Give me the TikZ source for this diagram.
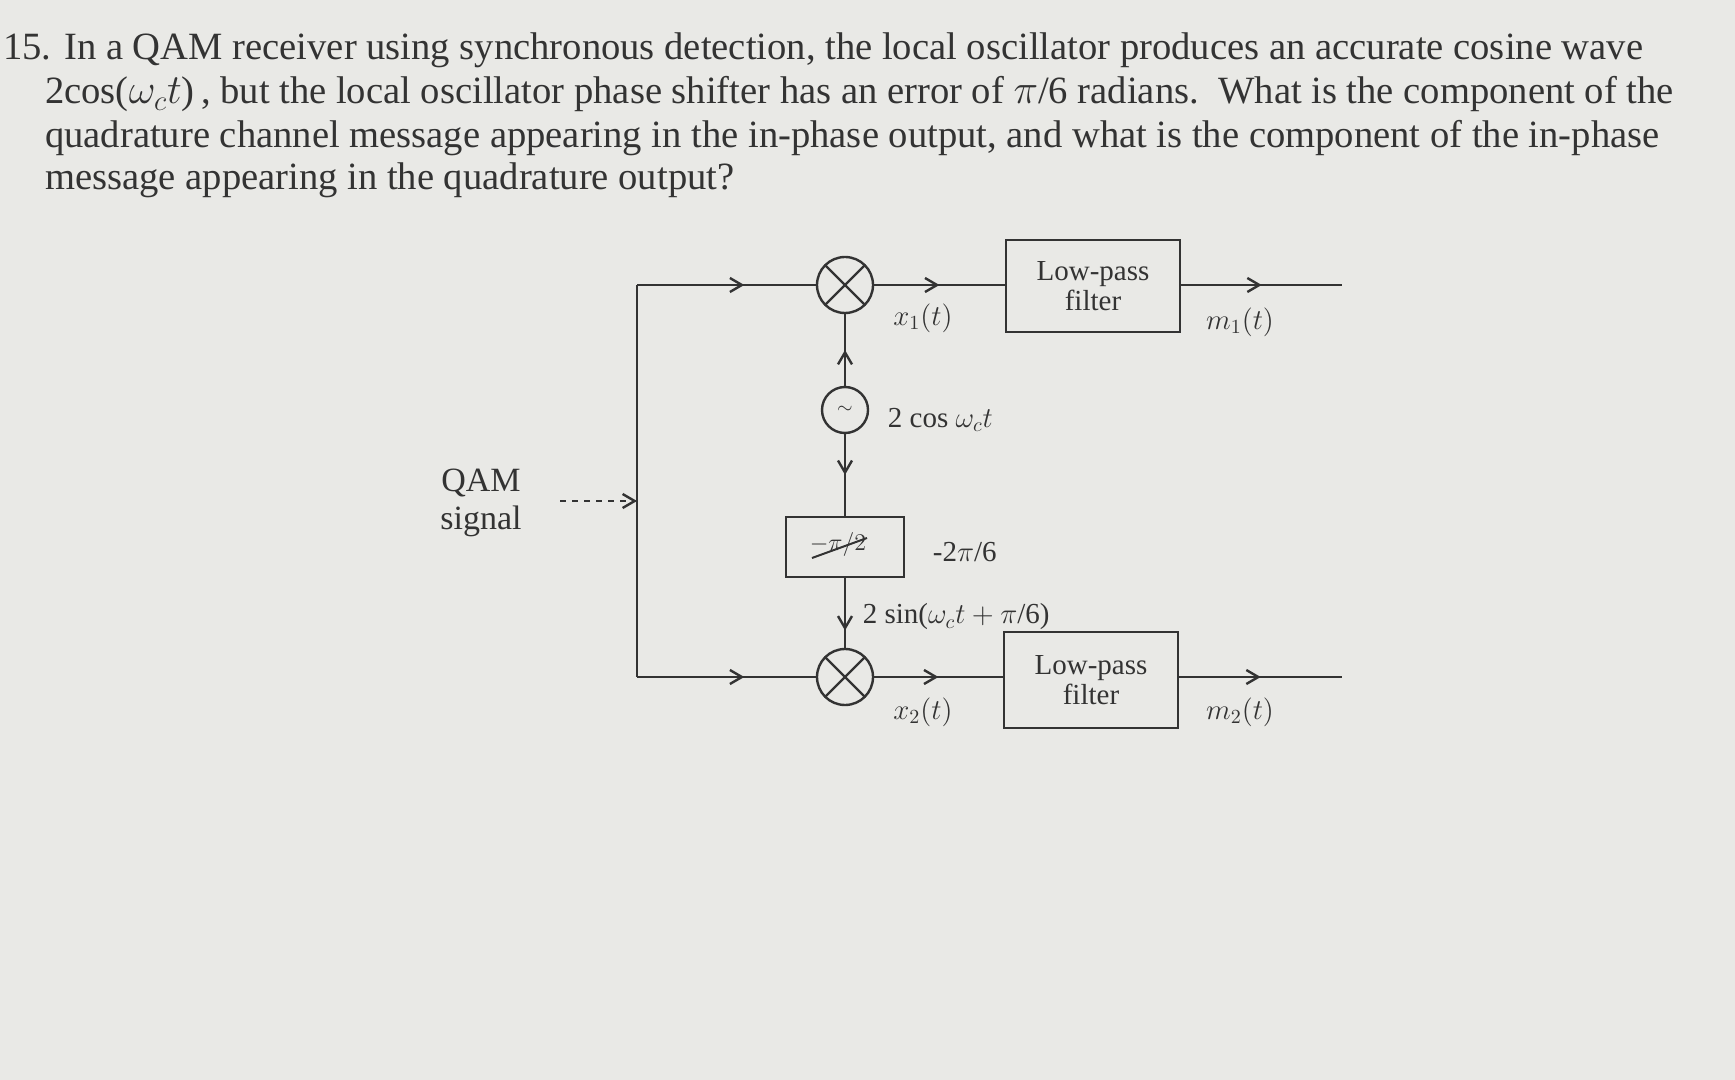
\documentclass[tikz,border=0pt]{standalone}
\usepackage{fontspec}
\setmainfont{Liberation Serif}
\usetikzlibrary{decorations.markings,arrows.meta}
\definecolor{paper}{HTML}{E9E9E6}
\definecolor{ink}{HTML}{333333}
\begin{document}
\begin{tikzpicture}[x=0.5pt,y=-0.5pt,
  line width=1.2pt, draw=ink, text=ink,
  mix/.style={circle,draw,minimum size=28pt,inner sep=0pt,path picture={\draw[line width=1.2pt] (path picture bounding box.north west)--(path picture bounding box.south east) (path picture bounding box.north east)--(path picture bounding box.south west);}},
  osc/.style={circle,draw,minimum size=23pt,inner sep=0pt},
  blk/.style={draw,line width=1.4pt,align=center,font=\fontsize{14.5}{15}\selectfont},
  lbl/.style={font=\fontsize{14.5}{15}\selectfont},
  qtext/.style={anchor=base west,inner sep=0pt,font=\fontsize{19.3}{21}\selectfont},
  midarrow/.style={postaction={decorate},decoration={markings,mark=at position #1 with {\arrow{Straight Barb[length=6pt,width=7pt]}}}}
]
\fill[paper] (0,0) rectangle (1735,1080);
\useasboundingbox (0,0) rectangle (1735,1080);
% question
\node[qtext] (q1) at (2,60) {15. In a QAM receiver using synchronous detection, the local oscillator produces an accurate cosine wave};
\node[qtext] (q2) at (44,104) {2cos($\omega_c t$)\,, but the local oscillator phase shifter has an error of $\pi$/6 radians.\ \ What is the component of the};
\node[qtext] (q3) at (44,148) {quadrature channel message appearing in the in-phase output, and what is the component of the in-phase};
\node[qtext] (q4) at (44,190) {message appearing in the quadrature output?};
% blocks
\node[mix] (m1) at (845,285) {};
\node[osc] (o) at (845,410) {$\sim$};
\node[draw,line width=1.4pt,minimum width=59pt,minimum height=30pt] (ph) at (845,547) {};
\node[font=\fontsize{13}{13}\selectfont] (phs) at (838,545) {$-\pi/2$};
\draw[line width=1pt] (812,558) -- (867,538);
\node[mix] (m2) at (845,677) {};
\node[blk,minimum width=87pt,minimum height=46pt] (f1) at (1093,286) {Low-pass\\filter};
\node[blk,minimum width=87pt,minimum height=48pt] (f2) at (1091,680) {Low-pass\\filter};
\coordinate (in) at (637,501);
\coordinate (top) at (637,285);
\coordinate (bot) at (637,677);
\coordinate (o1) at (1342,285);
\coordinate (o2) at (1342,677);
\coordinate (src) at (560,501);
% labels
\node[font=\fontsize{17}{19}\selectfont,align=center] (qam) at (481,503) {QAM\\signal};
\node[lbl] (x1) at (923,318) {$x_1(t)$};
\node[lbl] (mm1) at (1240,322) {$m_1(t)$};
\node[lbl,anchor=west] (c) at (880,420) {2 cos $\omega_c t$};
\node[lbl,anchor=west] (pl) at (925,552) {-2$\pi$/6};
\node[lbl,anchor=west] (sl) at (855,617) {2 sin($\omega_c t+\pi$/6)};
\node[lbl] (x2) at (923,712) {$x_2(t)$};
\node[lbl] (mm2) at (1240,712) {$m_2(t)$};
% connectors
\draw[dashed,midarrow=1] (src) -- (in);
\draw (top) -- (bot);
\draw[midarrow=0.6] (top) -- (m1);
\draw[midarrow=0.6] (bot) -- (m2);
\draw[midarrow=0.5] (m1) -- (m1 -| f1.west);
\draw[midarrow=0.5] (m2) -- (m2 -| f2.west);
\draw[midarrow=0.5] (f1.east |- o1) -- (o1);
\draw[midarrow=0.5] (f2.east |- o2) -- (o2);
\draw[midarrow=0.5] (o) -- (m1);
\draw[midarrow=0.5] (o) -- (ph);
\draw[midarrow=0.75] (ph) -- (m2);
\end{tikzpicture}
\end{document}
